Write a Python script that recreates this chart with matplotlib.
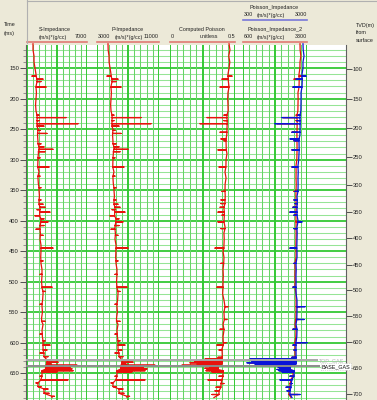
import numpy as np
import matplotlib
matplotlib.use("Agg")
import matplotlib.pyplot as plt
from matplotlib.ticker import MultipleLocator
from matplotlib.lines import Line2D

plt.rcParams['font.family'] = ['Liberation Sans', 'DejaVu Sans']

# two-way time samples of the logs (ms)
twt = [110, 120, 130, 140, 150, 160, 170, 180, 190, 200,
       210, 220, 230, 240, 250, 260, 270, 280, 290, 300,
       310, 320, 330, 340, 350, 360, 370, 380, 390, 400,
       410, 420, 430, 440, 450, 460, 470, 480, 490, 500,
       510, 520, 530, 540, 550, 560, 570, 580, 590, 600,
       610, 620, 630, 640, 650, 660, 670, 680, 690]

s_imp = [700, 700, 820, 820, 930, 1050, 1170, 1050, 1100, 1050,
         1000, 1050, 1170, 1170, 1280, 1230, 1280, 1400, 1330, 1280,
         1250, 1400, 1280, 1330, 1400, 1450, 1400, 1520, 1480, 1630,
         1520, 1560, 1520, 1630, 1630, 1600, 1630, 1750, 1750, 1700,
         1750, 1870, 1820, 1750, 1800, 1700, 1870, 1750, 1790, 1870,
         1870, 1980, 2330, 2220, 1750, 1630, 1280, 1980, 2920]

p_imp = [4420, 4440, 4550, 4560, 4680, 4810, 4940, 4800, 4860, 4810,
         4760, 4810, 4940, 4930, 5060, 5010, 5060, 5190, 5110, 5060,
         5030, 5190, 5060, 5110, 5190, 5250, 5190, 5320, 5280, 5450,
         5320, 5370, 5320, 5450, 5440, 5410, 5450, 5580, 5580, 5520,
         5580, 5710, 5660, 5580, 5630, 5520, 5710, 5580, 5630, 5710,
         5710, 5840, 6220, 6100, 5580, 5450, 5060, 5840, 6870]

poisson = [0.454, 0.461, 0.452, 0.460, 0.454, 0.446, 0.448, 0.454, 0.446, 0.444,
           0.446, 0.447, 0.438, 0.440, 0.438, 0.436, 0.431, 0.433, 0.438, 0.431,
           0.430, 0.423, 0.431, 0.424, 0.423, 0.425, 0.423, 0.415, 0.418, 0.415,
           0.423, 0.415, 0.417, 0.415, 0.408, 0.415, 0.413, 0.408, 0.410, 0.408,
           0.408, 0.405, 0.415, 0.423, 0.415, 0.418, 0.408, 0.415, 0.408, 0.410,
           0.400, 0.402, 0.400, 0.369, 0.408, 0.400, 0.392, 0.377, 0.338]

pi_2 = [3005, 3010, 3040, 3005, 3000, 2963, 2970, 2963, 2920, 2925,
        2920, 2915, 2878, 2885, 2878, 2875, 2878, 2880, 2878, 2870,
        2836, 2840, 2836, 2845, 2836, 2830, 2836, 2836, 2830, 2836,
        2836, 2840, 2836, 2830, 2836, 2836, 2794, 2800, 2794, 2798,
        2794, 2836, 2836, 2840, 2836, 2830, 2794, 2836, 2830, 2794,
        2794, 2798, 2794, 2583, 2710, 2625, 2583, 2541, 2625]

pi_1 = [2831, 2840, 2874, 2831, 2831, 2789, 2800, 2789, 2747, 2750,
        2747, 2740, 2705, 2710, 2705, 2700, 2663, 2670, 2663, 2650,
        2620, 2630, 2620, 2625, 2620, 2578, 2590, 2578, 2580, 2620,
        2578, 2585, 2578, 2570, 2578, 2580, 2536, 2545, 2536, 2540,
        2536, 2540, 2578, 2580, 2578, 2570, 2536, 2578, 2570, 2536,
        2536, 2540, 2536, 2283, 2452, 2367, 2325, 2283, 2367]

# single-sample spikes on the impedance logs
imp_spike_twt = [163, 168, 172, 181, 227, 231, 236, 241, 245, 252, 257, 274, 279, 283,
                 287, 297, 312, 327, 346, 366, 373, 378, 382, 386, 392, 397, 402, 408,
                 414, 424, 445, 466, 488, 509, 516, 537, 565, 586, 597, 604, 612, 617,
                 623, 628, 632, 635, 637, 639, 641, 643, 646, 648, 655, 661, 666, 672,
                 676, 683, 688]
s_spike = [580, 1870, 1630, 2220, 1400, 4550, 1400, 5950, 1980, 1520, 2330, 1630, 1980, 3030,
           2100, 1520, 2570, 1520, 1630, 1630, 1870, 2100, 1170, 2680, 930, 1980, 2450, 1980,
           1050, 1870, 3030, 1870, 1520, 2920, 2100, 1520, 2100, 1520, 2100, 2680, 2330, 1520,
           2450, 2920, 3620, 2800, 5830, 4200, 5020, 5250, 5370, 3500, 1520, 4780, 1050, 1630,
           2450, 2570, 3200]
p_spike = [4290, 5710, 5450, 6100, 5190, 8680, 5190, 9970, 5840, 5320, 6100, 5450, 5840, 7000,
           5970, 5320, 6480, 5320, 5450, 5450, 5710, 5970, 4940, 6610, 4680, 5840, 6350, 5840,
           4810, 5710, 7000, 5710, 5320, 6870, 5970, 5320, 5970, 5320, 5970, 6610, 6220, 5320,
           6350, 6870, 7640, 6740, 10480, 8300, 9000, 9450, 9190, 7500, 5320, 9190, 4810, 5450,
           6350, 6480, 7200]

# single-sample spikes on the poisson logs
poi_spike_twt = [163, 168, 181, 227, 231, 236, 241, 255, 266, 269, 284, 312, 352, 366,
                 372, 378, 386, 391, 402, 413, 445, 470, 509, 541, 562, 578, 600, 604,
                 612, 624, 627, 629, 631, 633, 635, 637, 640, 642, 644, 646, 648, 655,
                 661, 667, 673, 679, 685]
poisson_spike = [0.477, 0.400, 0.385, 0.415, 0.285, 0.415, 0.231, 0.385, 0.392, 0.415, 0.369, 0.377,
                 0.400, 0.392, 0.392, 0.385, 0.369, 0.400, 0.369, 0.392, 0.346, 0.392, 0.361, 0.446,
                 0.438, 0.385, 0.431, 0.361, 0.377, 0.369, 0.269, 0.231, 0.192, 0.154, 0.215, 0.092,
                 0.308, 0.269, 0.285, 0.277, 0.323, 0.377, 0.292, 0.415, 0.354, 0.346, 0.323]
pi_2_spike = [3090, 2752, 2710, 2836, 2288, 2836, 2035, 2667, 2625, 2752, 2667, 2667,
              2752, 2752, 2794, 2710, 2583, 2752, 2963, 2752, 2583, 2752, 2710, 3005,
              2963, 2710, 3047, 2710, 2752, 2667, 895, 769, 1022, 853, 1233, 1528,
              2119, 2203, 2077, 2161, 2288, 2583, 2203, 2667, 2456, 2499, 2920]
pi_1_spike = [2958, 2536, 2410, 2620, 1945, 2578, 1650, 2367, 2283, 2452, 2367, 2367,
              2494, 2452, 2494, 2410, 2283, 2452, 2789, 2452, 2283, 2452, 2410, 2916,
              2874, 2410, 3000, 2410, 2452, 2367, 595, 511, 680, 469, 806, 1102,
              1777, 1861, 1735, 1819, 1945, 2283, 1861, 2367, 2114, 2156, 2705]

# time-depth pairs for the right hand axis
tvd_labels = [100, 150, 200, 250, 300, 350, 400, 450, 500, 550, 600, 650, 700]
tvd_twt = [152, 200, 248, 296, 342, 386, 429, 472, 514, 557, 599, 642, 684]

tops = ['TOP_GAS', 'BASE_GAS']
tops_twt = [629, 638]

W, H = 377, 400
BG = '#ece9d8'
RED = '#e8120c'
BLUE = '#0a14d8'
GRID_MIN = '#96e496'
GRID_MAJ = '#34c834'
TXT = '#202020'
FS = 3.9


def fx(px):
    return px / W


def fy(py):
    return 1 - py / H


def log_xy(t_base, v_base, t_spk, v_spk):
    # merge the regular samples with the spikes (spike = out and back at one time)
    tb = np.asarray(t_base)
    t = list(t_base)
    v = list(v_base)
    for ts, vs in zip(t_spk, v_spk):
        b = v_base[int(np.abs(tb - ts).argmin())]
        t += [ts, ts, ts]
        v += [b, vs, b]
    order = np.argsort(t, kind='stable')
    return np.asarray(v)[order], np.asarray(t)[order]


fig = plt.figure(figsize=(W / 100, H / 100), dpi=100, facecolor=BG)

plot_l, plot_r, plot_t = 26, 346, 45
rect = [fx(plot_l), 0, fx(plot_r) - fx(plot_l), 1 - plot_t / H]
tlim = (694, 112)

# background axes: time axis + horizontal grid
ax = fig.add_axes(rect, facecolor='white')
ax.set_xlim(0, 1)
ax.set_ylim(*tlim)
ax.yaxis.set_major_locator(MultipleLocator(50))
ax.yaxis.set_minor_locator(MultipleLocator(10))
ax.yaxis.grid(True, which='minor', color=GRID_MIN, lw=0.75)
ax.yaxis.grid(True, which='major', color=GRID_MAJ, lw=1.3)
ax.set_xticks([])
ax.tick_params(axis='y', which='major', length=4, width=0.7, color='#505050',
               labelsize=FS + 0.3, labelcolor=TXT, pad=1)
ax.tick_params(axis='y', which='minor', length=2, width=0.5, color='#707070')
for side in ['top', 'bottom', 'right']:
    ax.spines[side].set_visible(False)
ax.spines['left'].set_color('#606060')
ax.spines['left'].set_linewidth(0.8)

# right axis: TVD from surface
ax_r = ax.twinx()
ax_r.set_ylim(*tlim)
ax_r.set_yticks(tvd_twt, labels=[str(v) for v in tvd_labels])
ax_r.tick_params(axis='y', length=4, width=0.7, color='#505050',
                 labelsize=FS + 0.3, labelcolor=TXT, pad=1)
for side in ['top', 'bottom', 'left']:
    ax_r.spines[side].set_visible(False)
ax_r.spines['right'].set_color('#606060')
ax_r.spines['right'].set_linewidth(0.8)

# tracks
tracks_px = [(27, 87), (97, 159), (170, 235), (243, 307)]
track_names = ['S-Impedance', 'P-Impedance', 'Computed Poisson', 'Poisson_Impedance_2']
track_units = ['(m/s)*(g/cc)', '(m/s)*(g/cc)', 'unitless', '(m/s)*(g/cc)']
track_min = [0, 3000, 0, 600]
track_max = [7000, 11000, 0.5, 3300]
track_min_label = ['', '3000', '0', '600']
track_max_label = ['7000', '11000', '0.5', '3300']
name_x = [39, 112, 179, 247]
unit_x = [39, 115, 200, 257]

curves = [
    (s_imp, imp_spike_twt, s_spike),
    (p_imp, imp_spike_twt, p_spike),
    (poisson, poi_spike_twt, poisson_spike),
    (pi_2, poi_spike_twt, pi_2_spike),
]

track_axes = []
for (x0, x1), lo, hi, (vals, st, sv) in zip(tracks_px, track_min, track_max, curves):
    ta = fig.add_axes([fx(x0), 0, fx(x1) - fx(x0), rect[3]], facecolor='none')
    ta.set_xlim(lo, hi)
    ta.set_ylim(*tlim)
    ta.set_xticks(np.linspace(lo, hi, 3))
    ta.set_xticks(np.linspace(lo, hi, 11), minor=True)
    ta.xaxis.grid(True, which='minor', color='#66d466', lw=0.75)
    ta.xaxis.grid(True, which='major', color=GRID_MAJ, lw=1.4)
    ta.set_axisbelow(True)
    ta.tick_params(axis='both', which='both', length=0, labelbottom=False, labelleft=False)
    ta.set_yticks([])
    for sp in ta.spines.values():
        sp.set_visible(False)
    x, y = log_xy(twt, vals, st, sv)
    ta.plot(x, y, color=RED, lw=0.9, clip_on=False)
    track_axes.append(ta)

# blue Poisson_Impedance on its own scale in track 4
x0, x1 = tracks_px[3]
tb = fig.add_axes([fx(x0), 0, fx(x1) - fx(x0), rect[3]], facecolor='none')
tb.set_xlim(300, 3000)
tb.set_ylim(*tlim)
tb.axis('off')
x, y = log_xy(twt, pi_1, poi_spike_twt, pi_1_spike)
tb.plot(x, y, color=BLUE, lw=0.9, clip_on=False)

# markers (tops)
ov = fig.add_axes(rect, facecolor='none')
ov.set_xlim(plot_l, plot_r)
ov.set_ylim(*tlim)
ov.axis('off')
ov.hlines(tops_twt[0], plot_l, 318, color='#a8a8a8', lw=1.4)
ov.hlines(tops_twt[1], plot_l, 320, color='#8c8c8c', lw=1.4)
ov.text(319, tops_twt[0], tops[0], fontsize=FS, color='#b4b4b4', va='center', ha='left', clip_on=False)
ov.text(322, tops_twt[1] + 1, tops[1], fontsize=FS, color='#101010', va='center', ha='left', clip_on=False,
        bbox=dict(boxstyle='square,pad=0.15', fc='white', ec='#c0c0c0', lw=0.5, ls=':'))


# header
def T(x, y, s, ha='left', color=TXT):
    fig.text(fx(x), fy(y), s, fontsize=FS, color=color, ha=ha, va='center')


T(4, 25, 'Time')
T(4, 33, '(ms)')
for (x0, x1), name, unit, mn, mx, nx, ux in zip(tracks_px, track_names, track_units,
                                                track_min_label, track_max_label, name_x, unit_x):
    T(nx, 29, name)
    T(ux, 37, unit)
    if mn:
        T(x0 + 1, 37, mn)
    T(x1, 37, mx, ha='right')
    fig.add_artist(Line2D([fx(x0), fx(x1)], [fy(42), fy(42)], color='#e07a74', lw=1.2))

x0, x1 = tracks_px[3]
T(250, 8, 'Poisson_Impedance')
T(257, 15, '(m/s)*(g/cc)')
T(x0 + 1, 15, '300')
T(x1, 15, '3000', ha='right')
fig.add_artist(Line2D([fx(x0), fx(x1)], [fy(20), fy(20)], color='#7878d8', lw=1.2))

T(356, 25, 'TVD(m)')
T(356, 33, 'from')
T(356, 41, 'surface')

# header frame
fig.add_artist(Line2D([fx(27), fx(27)], [fy(0), fy(43)], color='#b0b0b0', lw=0.8))
fig.add_artist(Line2D([fx(27), fx(377)], [fy(1), fy(1)], color='#b0b0b0', lw=0.8))

fig.savefig('out.png', dpi=100, facecolor=BG)
